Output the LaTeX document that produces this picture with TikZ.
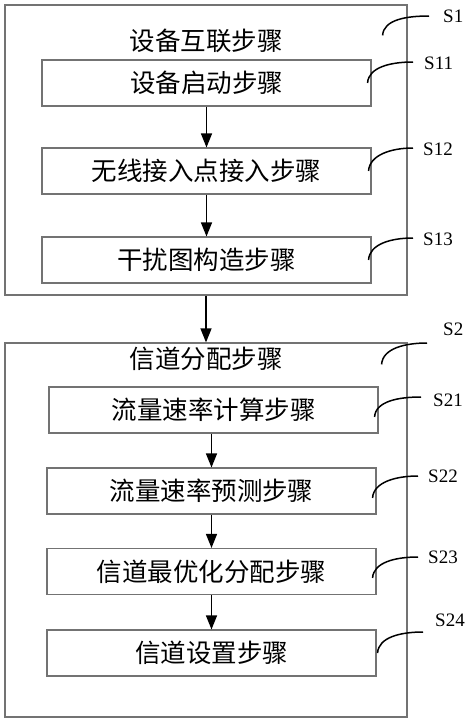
\documentclass[tikz,border=0pt]{standalone}
\usepackage{fontspec}
\setmainfont{Liberation Serif}
\newfontfamily\cjk{Noto Sans CJK SC}
\usetikzlibrary{arrows.meta}

\begin{document}
\begin{tikzpicture}[x=1pt,y=-1pt,
  groupbox/.style={draw=black!55,line width=1.2pt,minimum width=402pt,inner sep=0},
  stepbox/.style={draw=black!55,line width=1.1pt,minimum width=329pt,minimum height=46pt,inner sep=0,font=\cjk\fontsize{25.5}{28}\selectfont},
  grouptitle/.style={inner sep=0,font=\cjk\fontsize{25.5}{28}\selectfont},
  steplabel/.style={anchor=west,inner sep=0,font=\fontsize{19}{22}\selectfont},
  leader/.style={draw=black,line width=1.5pt},
  flow/.style={draw=black,line width=1.3pt,-{Triangle[length=14pt,width=11pt]}}]
\useasboundingbox (0,0) rectangle (474,726);
% first group
\node[groupbox,minimum height=290pt] (s1) at (206,150) {};
\node[grouptitle] (t1) at (206,41) {设备互联步骤};
\node[stepbox] (s11) at (206.5,83) {设备启动步骤};
\node[stepbox] (s12) at (206.5,171) {无线接入点接入步骤};
\node[stepbox] (s13) at (206.5,260) {干扰图构造步骤};
% second group
\node[groupbox,minimum height=374pt] (s2) at (206,530) {};
\node[grouptitle] (t2) at (206,359) {信道分配步骤};
\node[stepbox] (s21) at (213.5,410) {流量速率计算步骤};
\node[stepbox] (s22) at (211.5,491) {流量速率预测步骤};
\node[stepbox] (s23) at (211.5,571.5) {信道最优化分配步骤};
\node[stepbox] (s24) at (211.5,653) {信道设置步骤};
% labels
\node[steplabel] (l1) at (443,16) {S1};
\node[steplabel] (l11) at (424,63) {S11};
\node[steplabel] (l12) at (423,149) {S12};
\node[steplabel] (l13) at (423,239) {S13};
\node[steplabel] (l2) at (443,329) {S2};
\node[steplabel] (l21) at (433,400) {S21};
\node[steplabel] (l22) at (428,476) {S22};
\node[steplabel] (l23) at (428,557) {S23};
\node[steplabel] (l24) at (435,620) {S24};
% arrows
\draw[flow] (s11.south) -- (s12.north);
\draw[flow] (s12.south) -- (s13.north);
\draw[flow] (s1.south) -- (s2.north);
\draw[flow] (s21.south -| s22.north) -- (s22.north);
\draw[flow] (s22.south) -- (s23.north);
\draw[flow] (s23.south) -- (s24.north);
% leaders
\draw[leader] ([shift={(-25pt,-31pt)}]s1.north east) .. controls +(1,-16) and +(-22,0) .. ([xshift=-14pt]l1.west);
\draw[leader] ([xshift=-4pt]s11.east) .. controls +(1,-16) and +(-22,0) .. ([xshift=-11pt,yshift=1pt]l11.west);
\draw[leader] ([xshift=-3pt]s12.east) .. controls +(1,-16) and +(-22,0) .. ([xshift=-10pt,yshift=1pt]l12.west);
\draw[leader] ([xshift=-3pt]s13.east) .. controls +(1,-16) and +(-22,0) .. ([xshift=-10pt,yshift=1pt]l13.west);
\draw[leader] ([shift={(-26pt,-22pt)}]s2.north east) .. controls +(1,-16) and +(-22,0) .. ([shift={(-16pt,-14pt)}]l2.west);
\draw[leader] ([shift={(-4pt,-7pt)}]s21.east) .. controls +(1,-16) and +(-22,0) .. ([xshift=-12pt,yshift=3pt]l21.west);
\draw[leader] ([shift={(-4pt,-7pt)}]s22.east) .. controls +(1,-16) and +(-22,0) .. ([xshift=-10pt]l22.west);
\draw[leader] ([shift={(-4pt,-6.5pt)}]s23.east) .. controls +(1,-16) and +(-22,0) .. ([xshift=-10pt]l23.west);
\draw[leader] ([xshift=1pt]s24.east) .. controls +(1,-16) and +(-22,0) .. ([shift={(-12pt,-12pt)}]l24.west);
\end{tikzpicture}
\end{document}
